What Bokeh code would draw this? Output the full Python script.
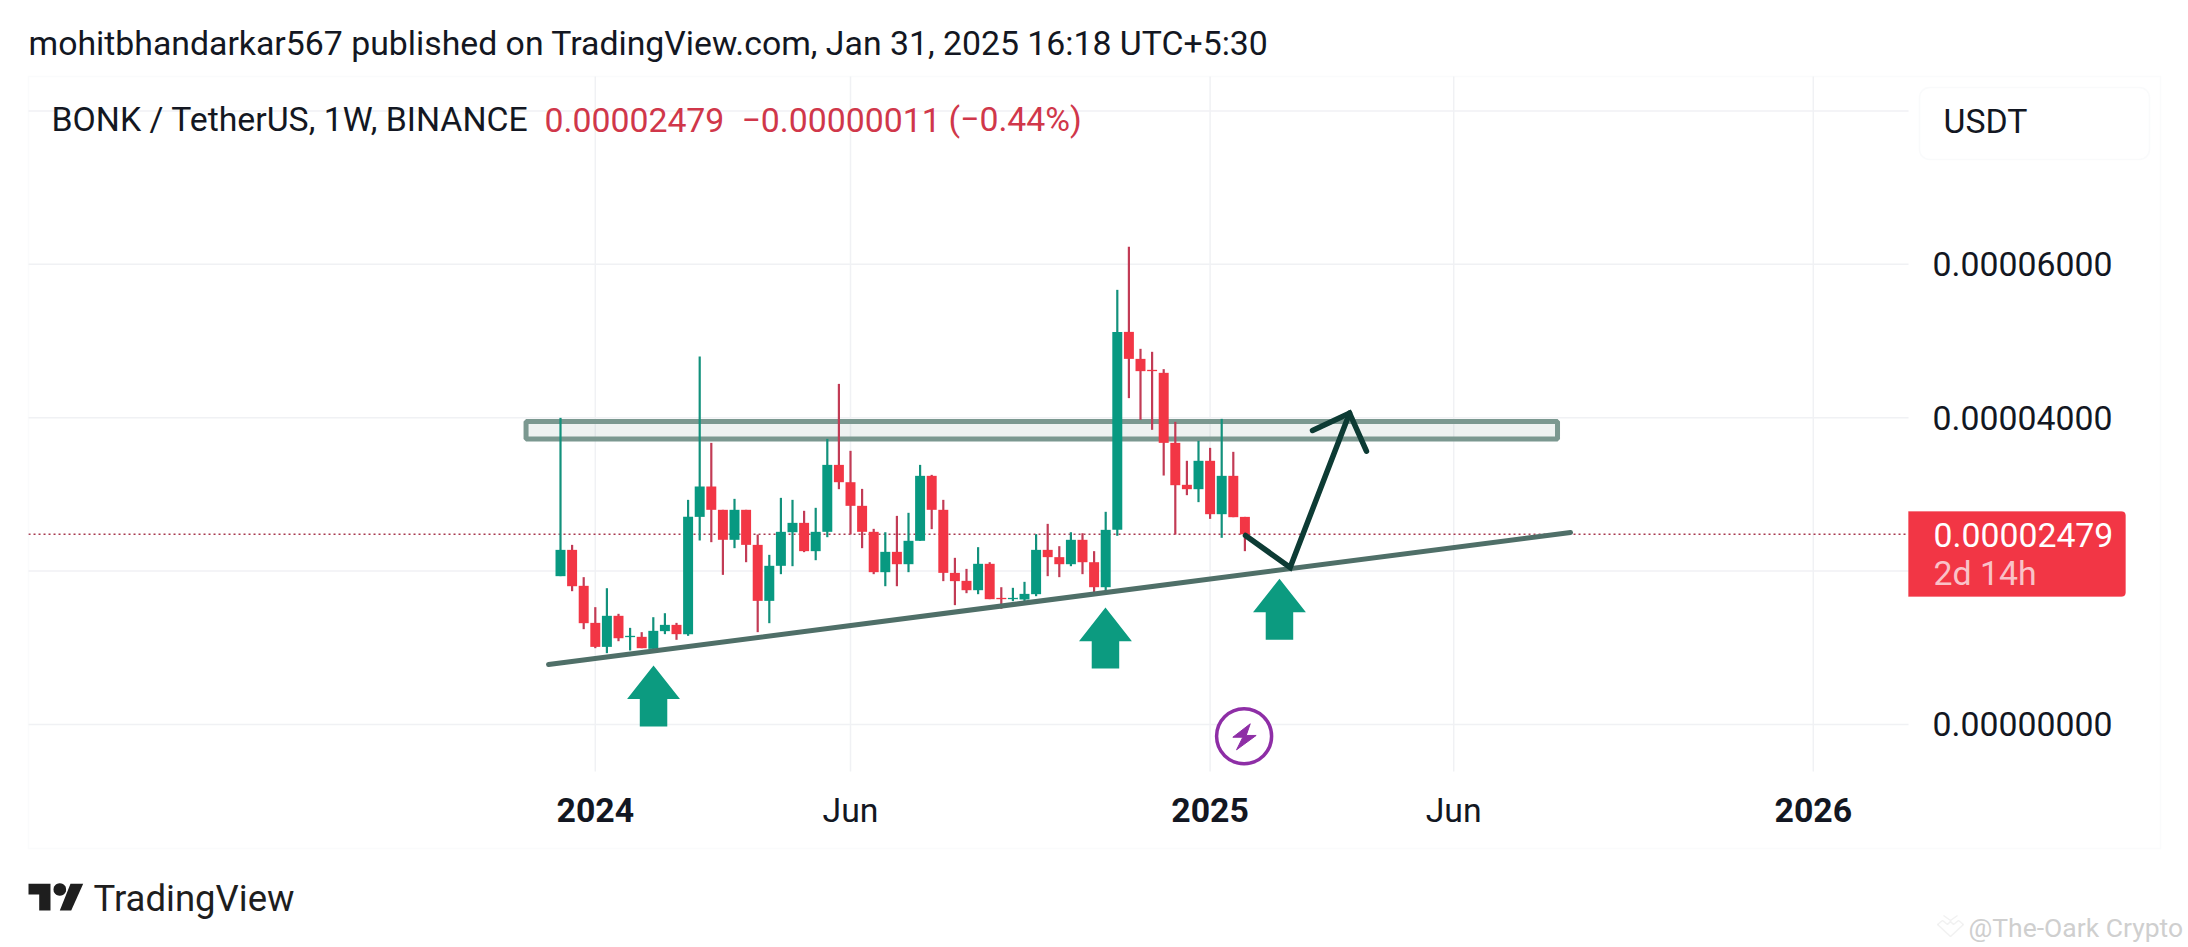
from bokeh.plotting import figure
from bokeh.embed import file_html
from bokeh.resources import INLINE
from bokeh.models import Range1d, FixedTicker, Label, BoxAnnotation, PolyAnnotation
import math

# Prices are in units of 1e-8 USDT; weeks are counted from the first candle.
weeks = list(range(60))
opens = [1934,2277,1808,1325,1012,1417,1139,1143,986,1217,1299,1178,2707,3103,2799,2408,2799,2342,1612,2069,
         2507,2629,2260,2512,3385,3159,2851,2512,1986,2251,2090,2395,3242,2799,1977,1873,1751,2095,1651,1634,
         1630,1699,2277,2182,2090,2408,2116,1790,2538,5119,4767,4624,4585,3672,3125,3068,3438,2742,3242,2707]
highs = [3998,2342,1921,1530,1777,1443,1260,1204,1399,1451,1325,2929,4798,3672,2799,2942,2799,2477,2212,2955,
         2929,2786,2825,3724,4441,3568,3072,2551,2507,2720,2760,3385,3255,2929,2173,2029,2312,2116,1790,1782,
         1860,2481,2616,2325,2507,2494,2260,2773,5667,6228,4898,4859,4633,3946,3438,3698,3607,3985,3555,2707]
lows = [1934,1738,1243,995,930,1086,965,995,986,1178,1104,1156,2399,2377,1951,2299,2116,1204,1321,1960,
        2064,2247,2142,2442,3068,2477,2299,1960,1803,1803,1986,2395,2547,1869,1556,1712,1699,1634,1508,1608,
        1608,1673,1934,1921,2064,1960,1725,1725,2460,4255,3972,3842,3246,2477,2990,2899,2681,2434,2703,2260]
closes = [2277,1803,1321,1012,1417,1125,1156,995,1221,1299,1178,2707,3103,2799,2408,2799,2342,1612,2069,2512,
          2629,2260,2512,3385,3159,2851,2512,1986,2251,2090,2395,3242,2799,1977,1869,1751,2095,1634,1634,1651,
          1703,2277,2182,2090,2408,2116,1790,2538,5119,4767,4607,4607,3672,3120,3068,3438,2742,3242,2703,2479]
last_price = 2479

price_ticks = [0, 2000, 4000, 6000, 8000]
price_labels = {0: "0.00000000", 2000: "", 4000: "0.00004000", 6000: "0.00006000", 8000: ""}
time_ticks = [3, 25, 56, 77, 108]
month_labels = {25: "Jun", 77: "Jun"}
year_labels = {3: "2024", 56: "2025", 108: "2026"}

zone_left, zone_right = [-2.97], [85.95]
zone_top, zone_bottom = [3951], [3722]
trend_x, trend_y = [-1.03, 87.07], [782, 2503]
path_x, path_y = [59.05, 62.9, 68.02], [2464, 2047, 4059]
head_x, head_y = [64.83, 68.02, 69.48], [3833, 4059, 3563]
arrow_x, arrow_tip = [8.02, 46.98, 61.98], [769, 1525, 1900]
event_x, event_y = [58.93], [-153]
bolt_x = [59.46, 57.96, 58.82, 58.28, 59.97, 59.11]
bolt_y = [9, -166, -166, -330, -143, -143]

UP, DOWN = "#089981", "#f23645"
UP_WICK, DOWN_WICK = "#12917c", "#c23b55"
GRID = "#f0f1f4"
FONT = "Roboto"
W, H = 2188, 947
# limits of the chart pane, in weeks and price units
PANE_L, PANE_R, PANE_T, PANE_B = -45.86, 116.21, 8449, -613


def sx(px):
    return px


def sy(py):
    return H - py


p = figure(width=W, height=H, output_backend="svg", toolbar_location=None,
           x_range=Range1d(-48.276, 140.345), y_range=Range1d(-2907.5, 9439.5),
           y_axis_location="right", min_border=0,
           background_fill_color="white", border_fill_color="white", outline_line_color=None)

for ax in (p.xaxis[0], p.yaxis[0]):
    ax.axis_line_color = None
    ax.major_tick_line_color = None
    ax.minor_tick_line_color = None
    ax.major_label_text_font = FONT
    ax.major_label_text_font_size = "33.8px"
    ax.major_label_text_color = "#131722"
p.xaxis[0].fixed_location = PANE_B
p.yaxis[0].fixed_location = PANE_R
p.xaxis[0].ticker = FixedTicker(ticks=list(month_labels))
p.xaxis[0].major_label_overrides = month_labels
p.xaxis[0].major_label_standoff = 13
p.yaxis[0].ticker = FixedTicker(ticks=price_ticks)
p.yaxis[0].major_label_overrides = price_labels
p.yaxis[0].major_label_standoff = 18
p.grid.grid_line_color = None

p.segment(time_ticks, PANE_B, time_ticks, PANE_T, line_color=GRID, line_width=1.5)
p.segment(PANE_L, price_ticks, PANE_R, price_ticks, line_color=GRID, line_width=1.5)
p.line([PANE_L, PANE_R], [last_price, last_price], line_color="#a83a50", line_width=1.5, line_dash=[2, 3])

p.quad(left=zone_left, right=zone_right, top=zone_top, bottom=zone_bottom,
       fill_color="#5a7d75", fill_alpha=0.1, line_color="#7b9890", line_width=5)

rising = [c >= o for o, c in zip(opens, closes)]
p.segment(weeks, highs, weeks, lows, line_width=2.2,
          line_color=[UP_WICK if r else DOWN_WICK for r in rising])
p.vbar(x=weeks, width=0.86, top=[max(o, c) for o, c in zip(opens, closes)],
       bottom=[min(o, c) for o, c in zip(opens, closes)],
       fill_color=[UP if r else DOWN for r in rising], line_color=None)

p.line(trend_x, trend_y, line_color="#4f6f68", line_width=5, line_cap="round")
for xs, ys in ((path_x, path_y), (head_x, head_y)):
    p.line(xs, ys, line_color="#0d3b34", line_width=5.5, line_cap="round", line_join="miter")

HEAD_W, SHAFT_W, HEAD_H, TOTAL_H = 2.28, 1.185, 438, 795
p.patches([[x, x + HEAD_W, x + SHAFT_W, x + SHAFT_W, x - SHAFT_W, x - SHAFT_W, x - HEAD_W] for x in arrow_x],
          [[t, t - HEAD_H, t - HEAD_H, t - TOTAL_H, t - TOTAL_H, t - HEAD_H, t - HEAD_H] for t in arrow_tip],
          fill_color="#0c9b80", line_color=None)

p.scatter(event_x, event_y, marker="circle", size=55, fill_color="white", line_color="#8e2ea6", line_width=3.5)
p.patch(bolt_x, bolt_y, fill_color="#8e2ea6", line_color="#8e2ea6", line_width=1, line_join="round")


def text(t, px, py, size=33.8, color="#131722", align="left", style="normal", font=FONT):
    p.add_layout(Label(x=sx(px), y=sy(py), x_units="screen", y_units="screen", text=t, text_font=font,
                       text_font_size=f"{size}px", text_color=color, text_align=align,
                       text_baseline="middle", text_font_style=style))


def box(l, r, t, b, **kw):
    p.add_layout(BoxAnnotation(left=sx(l), right=sx(r), top=sy(t), bottom=sy(b),
                               left_units="screen", right_units="screen", top_units="screen",
                               bottom_units="screen", **kw))


def poly(pts, **kw):
    p.add_layout(PolyAnnotation(xs=[sx(a) for a, _ in pts], ys=[sy(b) for _, b in pts],
                                xs_units="screen", ys_units="screen", **kw))


box(28, 2160, 76, 848, fill_alpha=0, line_color=GRID, line_width=1.5)

text("mohitbhandarkar567 published on TradingView.com, Jan 31, 2025 16:18 UTC+5:30", 28, 42.5)
text("BONK / TetherUS, 1W, BINANCE", 51, 119)
LEG = "#d0374a"
text("0.00002479", 544, 119, color=LEG)
text("\u22120.00000011", 741, 119, color=LEG)
text("(\u22120.44%)", 948, 119, color=LEG)

box(1919, 2149, 87, 159, fill_color="white", fill_alpha=1, line_color="#ebedf1", line_width=1.5, border_radius=10)
text("USDT", 1943, 121)

box(1908, 2125, 511, 596, fill_color="#f23645", fill_alpha=1, line_color="#f23645", line_width=1,
    border_radius=dict(top_left=0, top_right=4, bottom_right=4, bottom_left=0))
text("0.00002479", 1933, 534, color="#ffffff")
text("2d 14h", 1933, 573, color="#f9c2c8")

for wk, lab in year_labels.items():
    p.add_layout(Label(x=wk, y=sy(809.5), x_units="data", y_units="screen", text=lab, text_font=FONT,
                       text_font_size="33.8px", text_color="#131722", text_align="center",
                       text_baseline="middle", text_font_style="bold"))

LOGO = "#1e1e1e"
poly([(28, 883.3), (50, 883.3), (50, 910), (38.7, 910), (38.7, 894), (28, 894)], fill_color=LOGO, fill_alpha=1, line_color=None)
poly([(70, 883.3), (82.7, 883.3), (70.7, 910), (59.3, 910)], fill_color=LOGO, fill_alpha=1, line_color=None)
poly([(59.3 + 6.3 * math.cos(a / 12 * math.pi), 889 + 6.3 * math.sin(a / 12 * math.pi)) for a in range(24)],
     fill_color=LOGO, fill_alpha=1, line_color=None)
text("TradingView", 93, 898, size=36.5, color="#1e1e1e")

MARK = "#cfcfcf"
poly([(1937, 924), (1950, 936), (1963, 924), (1950, 936)], fill_alpha=0, line_color=MARK, line_width=1.5)
poly([(1937, 924), (1942, 920), (1947, 924), (1950, 921), (1953, 924), (1958, 920), (1963, 924),
      (1958, 920), (1953, 924), (1950, 921), (1947, 924), (1942, 920)],
     fill_alpha=0, line_color=MARK, line_width=1.5)
poly([(1943, 915), (1950, 920), (1957, 915), (1950, 920)], fill_alpha=0, line_color=MARK, line_width=1.5)
text("@The-Oark Crypto", 1968, 927, size=26.5, color=MARK)

open("out.html", "w").write(file_html(p, INLINE))
